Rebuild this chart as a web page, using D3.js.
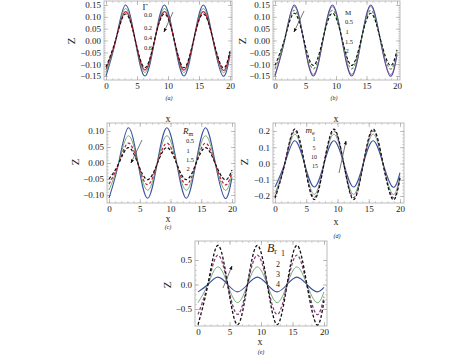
<!DOCTYPE html>
<html>
<head>
<meta charset="utf-8">
<script src="https://cdn.jsdelivr.net/npm/d3@7"></script>
<style>
  body { margin: 0; background: #fff; }
  svg { display: block; }
  text { font-family: "Liberation Serif", "DejaVu Serif", serif; fill: #222; }
</style>
</head>
<body>
<div id="viz"></div>
<script>
// sample positions along x (quarter periods)
const xs = [0, 1.57, 3.14, 4.71, 6.28, 7.85, 9.42, 11.0, 12.57, 14.14, 15.71, 17.28, 18.85, 20];
const xTicks = [0, 5, 10, 15, 20];

// (a) Gamma
const aLegend = ["0.0", "0.2", "0.4", "0.6"];
const aZ = [
  [-0.150, 0.000, 0.150, 0.000, -0.150, 0.000, 0.150, 0.000, -0.150, 0.000, 0.150, 0.000, -0.150, -0.061],
  [-0.135, 0.000, 0.135, 0.000, -0.135, 0.000, 0.135, 0.000, -0.135, 0.000, 0.135, 0.000, -0.135, -0.055],
  [-0.122, 0.002, 0.122, 0.002, -0.125, 0.002, 0.122, 0.002, -0.125, 0.002, 0.122, 0.002, -0.125, -0.050],
  [-0.112, 0.004, 0.112, 0.004, -0.115, 0.004, 0.112, 0.004, -0.115, 0.004, 0.112, 0.004, -0.115, -0.045]
];
const aYTicks = [-0.15, -0.10, -0.05, 0.00, 0.05, 0.10, 0.15];

// (b) M
const bLegend = ["0.5", "1", "1.5", "2"];
const bZ = [
  [-0.150, 0.000, 0.150, 0.000, -0.150, 0.000, 0.150, 0.000, -0.150, 0.000, 0.150, 0.000, -0.150, -0.061],
  [-0.143, 0.000, 0.143, 0.000, -0.143, 0.000, 0.143, 0.000, -0.143, 0.000, 0.143, 0.000, -0.143, -0.058],
  [-0.120, 0.004, 0.128, 0.004, -0.120, 0.004, 0.128, 0.004, -0.120, 0.004, 0.128, 0.004, -0.120, -0.048],
  [-0.105, 0.006, 0.115, 0.006, -0.105, 0.006, 0.115, 0.006, -0.105, 0.006, 0.115, 0.006, -0.105, -0.040]
];

// (c) R_m
const cLegend = ["0.5", "1", "1.5", "2"];
const cZ = [
  [-0.110, 0.000, 0.110, 0.000, -0.110, 0.000, 0.110, 0.000, -0.110, 0.000, 0.110, 0.000, -0.110, -0.045],
  [-0.085, 0.000, 0.085, 0.000, -0.085, 0.000, 0.085, 0.000, -0.085, 0.000, 0.085, 0.000, -0.085, -0.035],
  [-0.066, -0.002, 0.062, -0.002, -0.068, -0.002, 0.062, -0.002, -0.068, -0.002, 0.062, -0.002, -0.068, -0.028],
  [-0.050, -0.002, 0.048, -0.002, -0.052, -0.002, 0.048, -0.002, -0.052, -0.002, 0.048, -0.002, -0.052, -0.022]
];
const cYTicks = [-0.10, -0.05, 0.00, 0.05, 0.10];

// (d) m_e
const dLegend = ["1", "5", "10", "15"];
const dZ = [
  [-0.145, 0.000, 0.140, 0.000, -0.145, 0.000, 0.140, 0.000, -0.145, 0.000, 0.140, 0.000, -0.145, -0.057],
  [-0.185, 0.000, 0.180, 0.000, -0.190, 0.000, 0.180, 0.000, -0.190, 0.000, 0.180, 0.000, -0.190, -0.075],
  [-0.205, 0.000, 0.200, 0.000, -0.210, 0.000, 0.200, 0.000, -0.210, 0.000, 0.200, 0.000, -0.210, -0.083],
  [-0.215, 0.000, 0.212, 0.000, -0.222, 0.000, 0.212, 0.000, -0.222, 0.000, 0.212, 0.000, -0.222, -0.088]
];
const dYTicks = [-0.2, -0.1, 0.0, 0.1, 0.2];

// (e) B_r
const eLegend = ["1", "2", "3", "4"];
const eZ = [
  [-0.15, 0.00, 0.15, 0.00, -0.15, 0.00, 0.15, 0.00, -0.15, 0.00, 0.15, 0.00, -0.15, -0.06],
  [-0.37, 0.00, 0.36, 0.00, -0.37, 0.00, 0.36, 0.00, -0.37, 0.00, 0.36, 0.00, -0.37, -0.15],
  [-0.61, 0.00, 0.60, 0.00, -0.61, 0.00, 0.60, 0.00, -0.61, 0.00, 0.60, 0.00, -0.61, -0.25],
  [-0.82, 0.00, 0.80, 0.00, -0.82, 0.00, 0.80, 0.00, -0.82, 0.00, 0.80, 0.00, -0.82, -0.33]
];
const eYTicks = [-0.5, 0.0, 0.5];

const blue = "#3b4fa3", green = "#4f9a56", red = "#c2203e", purple = "#8a3f7e", black = "#111";

const svg = d3.select("#viz").append("svg")
    .attr("width", 474)
    .attr("height", 363);

svg.append("defs").append("marker")
    .attr("id", "head")
    .attr("viewBox", "0 0 10 10")
    .attr("refX", 9).attr("refY", 5)
    .attr("markerWidth", 5).attr("markerHeight", 5)
    .attr("orient", "auto")
  .append("path")
    .attr("d", "M0,1 L10,5 L0,9 Z")
    .attr("fill", "#111");

function panel(p) {
  const x = d3.scaleLinear().domain([0, 20]).range([p.x0, p.x20]);
  const y = d3.scaleLinear().domain([p.yHi, p.yLo]).range([p.pyHi, p.pyLo]);
  const g = svg.append("g");
  const w = p.fx1 - p.fx0, h = p.fy1 - p.fy0;

  g.append("clipPath").attr("id", "clip" + p.id)
    .append("rect").attr("x", p.fx0).attr("y", p.fy0).attr("width", w).attr("height", h);

  // minor ticks
  const xMinor = d3.range(0, 21, 1);
  const yMinor = d3.range(Math.ceil(p.yLo / p.minor), Math.floor(p.yHi / p.minor) + 1).map(k => k * p.minor);
  const minorAxes = [
    [d3.axisBottom(x).tickValues(xMinor), `translate(0,${p.fy1})`],
    [d3.axisTop(x).tickValues(xMinor), `translate(0,${p.fy0})`],
    [d3.axisLeft(y).tickValues(yMinor), `translate(${p.fx0},0)`],
    [d3.axisRight(y).tickValues(yMinor), `translate(${p.fx1},0)`]
  ];
  minorAxes.forEach(([ax, tr]) => {
    const a = g.append("g").attr("transform", tr).call(ax.tickSize(-2).tickFormat(""));
    a.select(".domain").remove();
    a.selectAll("line").attr("stroke", "#aaa").attr("stroke-width", 0.5);
  });

  // major ticks + labels
  const fmt = d3.format(p.fmt);
  const majors = [
    [d3.axisBottom(x).tickValues(xTicks).tickFormat(d3.format("d")), `translate(0,${p.fy1})`, true],
    [d3.axisTop(x).tickValues(xTicks).tickFormat(""), `translate(0,${p.fy0})`, false],
    [d3.axisLeft(y).tickValues(p.yTicks).tickFormat(fmt), `translate(${p.fx0},0)`, true],
    [d3.axisRight(y).tickValues(p.yTicks).tickFormat(""), `translate(${p.fx1},0)`, false]
  ];
  majors.forEach(([ax, tr]) => {
    const a = g.append("g").attr("transform", tr).call(ax.tickSize(-4).tickPadding(3));
    a.select(".domain").remove();
    a.selectAll("line").attr("stroke", "#999").attr("stroke-width", 0.6);
    a.selectAll("text").attr("font-size", 9).attr("font-family", "Liberation Serif").attr("fill", "#222");
  });

  g.append("rect")
    .attr("x", p.fx0).attr("y", p.fy0).attr("width", w).attr("height", h)
    .attr("fill", "none").attr("stroke", "#aaa").attr("stroke-width", 0.8);

  // curves
  const line = d3.line().x(d => x(d[0])).y(d => y(d[1])).curve(d3.curveNatural);
  const plot = g.append("g").attr("clip-path", `url(#clip${p.id})`);
  p.series.forEach((z, i) => {
    const st = p.styles[i];
    plot.append("path")
      .datum(xs.map((v, k) => [v, z[k]]))
      .attr("d", line)
      .attr("fill", "none")
      .attr("stroke", st.c)
      .attr("stroke-width", st.w)
      .attr("stroke-dasharray", st.dash || null);
  });

  // legend text
  g.append("text").attr("x", p.title[0]).attr("y", p.title[1])
    .attr("text-anchor", "middle").attr("font-size", p.titleSize)
    .html(p.titleHtml);
  p.legend.forEach((t, i) => {
    g.append("text").attr("x", p.legPos[i][0]).attr("y", p.legPos[i][1])
      .attr("text-anchor", "middle").attr("font-size", p.legSize).attr("dominant-baseline", "middle")
      .text(t);
  });

  // arrow
  g.append("line")
    .attr("x1", p.arrow[0]).attr("y1", p.arrow[1]).attr("x2", p.arrow[2]).attr("y2", p.arrow[3])
    .attr("stroke", "#555").attr("stroke-width", 0.8)
    .attr("marker-end", "url(#head)");

  // axis labels
  g.append("text").attr("transform", `translate(${p.zPos[0]},${p.zPos[1]}) rotate(-90)`)
    .attr("text-anchor", "middle").attr("dominant-baseline", "middle")
    .attr("font-size", 11).text("Z");
  g.append("text").attr("x", p.xPos[0]).attr("y", p.xPos[1])
    .attr("text-anchor", "middle").attr("dominant-baseline", "middle")
    .attr("font-size", 10).text("x");
  g.append("text").attr("x", p.cap[0]).attr("y", p.cap[1])
    .attr("text-anchor", "middle").attr("dominant-baseline", "middle")
    .attr("font-size", 6).attr("font-style", "italic").attr("fill", "#555").text(p.capText);
}

const st4 = (c1, c2, c3, c4) => [c1, c2, c3, c4];

panel({
  id: "a", x0: 106, x20: 230, fx0: 104, fx1: 232, fy0: 1, fy1: 80,
  yHi: 0.15, yLo: -0.15, pyHi: 5, pyLo: 76, yTicks: aYTicks, minor: 0.01, fmt: ".2f",
  series: aZ,
  styles: st4({ c: blue, w: 1.1 }, { c: green, w: 0.8 }, { c: red, w: 1.1 }, { c: black, w: 1.1, dash: "3,2" }),
  title: [145, 10], titleSize: 9, titleHtml: "Γ",
  legend: aLegend, legSize: 6.5, legPos: [[148, 16], [148, 28.5], [148, 38.5], [148, 48.5]],
  arrow: [173, 12, 164, 32],
  zPos: [72, 41], xPos: [168, 120], cap: [169, 99], capText: "(a)"
});

panel({
  id: "b", x0: 275, x20: 397, fx0: 273, fx1: 400, fy0: 1, fy1: 80,
  yHi: 0.15, yLo: -0.15, pyHi: 5, pyLo: 76, yTicks: aYTicks, minor: 0.01, fmt: ".2f",
  series: bZ,
  styles: st4({ c: blue, w: 1.1 }, { c: purple, w: 0.7 }, { c: green, w: 1.1, dash: "3,2" }, { c: black, w: 1.1, dash: "3,2" }),
  title: [348, 15], titleSize: 7, titleHtml: "M",
  legend: bLegend, legSize: 6.5, legPos: [[349, 23], [347, 33], [349, 43], [347, 52]],
  arrow: [304, 11, 294, 32],
  zPos: [243, 41], xPos: [336, 120], cap: [334, 99], capText: "(b)"
});

panel({
  id: "c", x0: 109, x20: 232, fx0: 107, fx1: 235, fy0: 123, fy1: 203,
  yHi: 0.10, yLo: -0.10, pyHi: 131, pyLo: 195, yTicks: cYTicks, minor: 0.01, fmt: ".2f",
  series: cZ,
  styles: st4({ c: blue, w: 1.1 }, { c: green, w: 0.8 }, { c: red, w: 1.2, dash: "3,2" }, { c: black, w: 1.2, dash: "3,2" }),
  title: [188, 134], titleSize: 9, titleHtml: '<tspan font-style="italic">R</tspan><tspan font-size="6" dy="2">m</tspan>',
  legend: cLegend, legSize: 6.5, legPos: [[190, 142], [188, 152], [190, 161], [188, 170]],
  arrow: [142, 140, 131, 163],
  zPos: [76, 162], xPos: [168, 220], cap: [168, 228], capText: "(c)"
});

panel({
  id: "d", x0: 275, x20: 400, fx0: 273, fx1: 404, fy0: 123, fy1: 203,
  yHi: 0.2, yLo: -0.2, pyHi: 131, pyLo: 196, yTicks: dYTicks, minor: 0.02, fmt: ".1f",
  series: dZ,
  styles: st4({ c: blue, w: 1.1 }, { c: green, w: 0.8 }, { c: purple, w: 1.2, dash: "3,2" }, { c: black, w: 1.2, dash: "3,2" }),
  title: [310, 133], titleSize: 9, titleHtml: '<tspan font-style="italic">m</tspan><tspan font-size="6" dy="2">e</tspan>',
  legend: dLegend, legSize: 6, legPos: [[314, 140], [314, 149], [314, 158], [315, 167]],
  arrow: [339, 173, 346, 141],
  zPos: [245, 162], xPos: [336, 223], cap: [337, 237], capText: "(d)"
});

panel({
  id: "e", x0: 198, x20: 324, fx0: 195, fx1: 327, fy0: 241, fy1: 326,
  yHi: 0.5, yLo: -0.5, pyHi: 260, pyLo: 309, yTicks: eYTicks, minor: 0.1, fmt: ".1f",
  series: eZ,
  styles: st4({ c: blue, w: 1.1 }, { c: green, w: 0.8 }, { c: purple, w: 1.3, dash: "3,2" }, { c: black, w: 1.3, dash: "3,2" }),
  title: [272, 252], titleSize: 12, titleHtml: '<tspan font-style="italic">B</tspan><tspan font-size="8" dy="2">r</tspan>',
  legend: eLegend, legSize: 8, legPos: [[283, 254], [278, 265], [278, 275], [278, 285]],
  arrow: [223, 288, 232, 266],
  zPos: [168, 285], xPos: [260, 343], cap: [261, 353], capText: "(e)"
});
</script>
</body>
</html>
